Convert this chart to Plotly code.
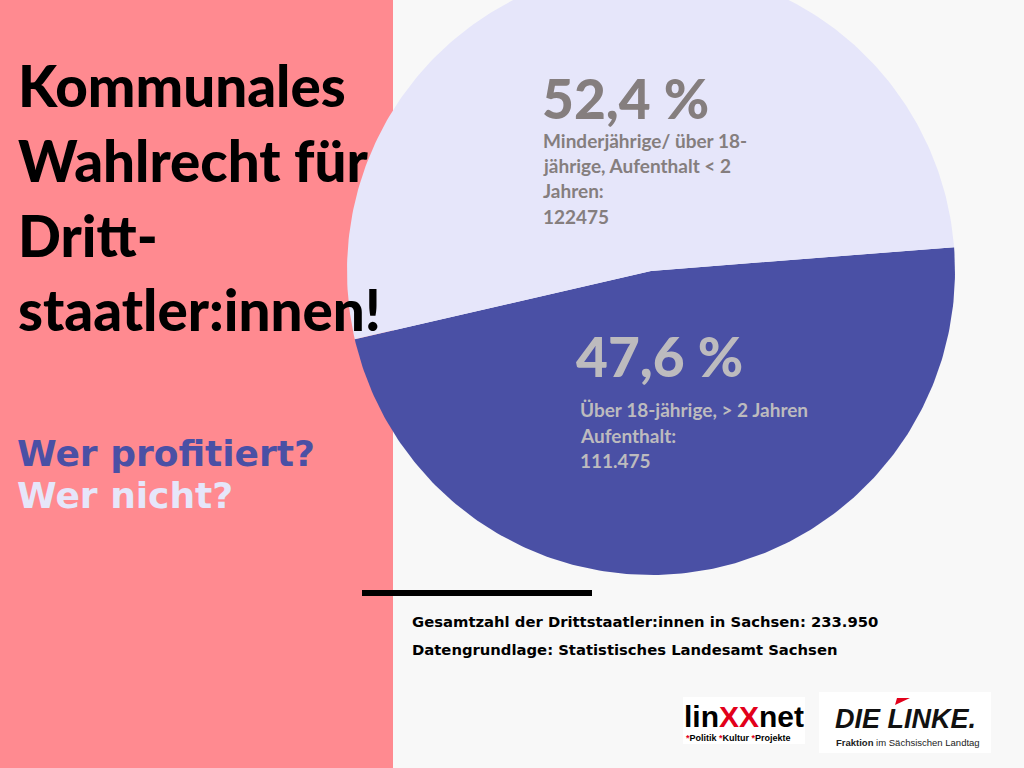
import numpy as np
import plotly.graph_objects as go

W, H = 1024, 768

# ---------------- data ----------------
categories = ["Minderjährige/ über 18-jährige, Aufenthalt < 2 Jahren",
              "Über 18-jährige, > 2 Jahren Aufenthalt"]
counts = [122475, 111475]
pct_labels = ["52,4 %", "47,6 %"]
desc_lines = [["Minderjährige/ über 18-", "jährige, Aufenthalt < 2", "Jahren:", "122475"],
              ["Über 18-jährige, > 2 Jahren", "Aufenthalt:", "111.475"]]
total_text = "Gesamtzahl der Drittstaatler:innen in Sachsen: 233.950"
source_text = "Datengrundlage: Statistisches Landesamt Sachsen"
title_lines = ["Kommunales", "Wahlrecht für", "Dritt-", "staatler:innen!"]
subtitle_lines = ["Wer profitiert?", "Wer nicht?"]

slice_colors = ["#E6E6FA", "#4A50A5"]
label_colors = ["#857E7E", "#BDBBBE"]
PINK = "#FF8A90"
BG = "#F8F8F8"

# pie geometry (pixel units on the axes)
CX, CY, R = 651, 271, 304
START_DEG = 4.5          # boundary between the slices on the right side

fig = go.Figure()

# slices drawn clockwise from START_DEG: first index 1 (blue), then index 0
total = sum(counts)
angle = START_DEG
for i in [1, 0]:
    span = counts[i] / total * 360.0
    th = np.radians(np.linspace(angle, angle - span, 200))
    xs = np.concatenate([[CX], CX + R * np.cos(th), [CX]])
    ys = np.concatenate([[CY], CY - R * np.sin(th), [CY]])
    fig.add_trace(go.Scatter(x=xs, y=ys, mode="lines", fill="toself",
                             fillcolor=slice_colors[i], line=dict(width=0, color=slice_colors[i]),
                             name=categories[i], hoverinfo="name", showlegend=False))
    angle -= span

shapes = [
    dict(type="rect", xref="x", yref="y", x0=0, x1=393, y0=0, y1=H,
         fillcolor=PINK, line=dict(width=0), layer="below"),
    dict(type="line", xref="x", yref="y", x0=362, x1=592, y0=593, y1=593,
         line=dict(color="black", width=6)),
    dict(type="rect", xref="x", yref="y", x0=683, x1=805, y0=697, y1=744,
         fillcolor="white", line=dict(width=0)),
    dict(type="rect", xref="x", yref="y", x0=819, x1=991, y0=692, y1=753,
         fillcolor="white", line=dict(width=0)),
    dict(type="path", xref="x", yref="y", path="M 895 705 L 897 698 L 910 698 Z",
         fillcolor="#E2001A", line=dict(width=0)),
]

annotations = []


def txt(x, base, text, size, color, family, weight="bold", style="normal"):
    annotations.append(dict(
        x=x, y=base - 0.37 * size, xref="x", yref="y", text=text, showarrow=False,
        xanchor="left", yanchor="middle", align="left",
        font=dict(size=size, color=color, family=family, weight=weight, style=style)))


TITLE_FONT = "Lato, 'Open Sans', sans-serif"
for line, base in zip(title_lines, [106, 181, 256, 330]):
    txt(16, base, line, 56.5, "black", TITLE_FONT, weight=900)

txt(15, 467, subtitle_lines[0], 36, "#4A50A5", "'DejaVu Sans', sans-serif")
txt(15, 509, subtitle_lines[1], 36, "#E6E6FA", "'DejaVu Sans', sans-serif")

# slice labels
txt(540, 118, pct_labels[0], 55, label_colors[0], TITLE_FONT, weight=900)
for line, base in zip(desc_lines[0], [148, 173, 198, 224]):
    txt(541, base, line, 19, label_colors[0], TITLE_FONT)

txt(574, 376, pct_labels[1], 55, label_colors[1], TITLE_FONT, weight=900)
for line, base in zip(desc_lines[1], [417, 443, 468]):
    txt(578, base, line, 19, label_colors[1], TITLE_FONT)

# footnotes
txt(410, 627, total_text, 14.8, "black", "'DejaVu Sans', sans-serif")
txt(410, 655, source_text, 14.8, "black", "'DejaVu Sans', sans-serif")

# logos
txt(682, 728, "lin<span style='color:#E2001A'>XX</span>net", 30, "black",
    "'Liberation Sans Narrow', 'Liberation Sans', sans-serif")
txt(684, 741, "<span style='color:#E2001A'>*</span>Politik <span style='color:#E2001A'>*</span>Kultur "
    "<span style='color:#E2001A'>*</span>Projekte", 9, "black",
    "'Liberation Sans Narrow', 'Liberation Sans', sans-serif")
txt(833, 729, "DIE LINKE.", 27, "#111111", "'Liberation Sans', sans-serif", weight=900, style="italic")
txt(834, 746, "<b>Fraktion</b> im Sächsischen Landtag", 9.5, "#222222",
    "'Liberation Sans', sans-serif", weight="normal")

fig.update_layout(
    width=W, height=H, margin=dict(l=0, r=0, t=0, b=0),
    paper_bgcolor=BG, plot_bgcolor=BG,
    xaxis=dict(range=[0, W], visible=False, fixedrange=True),
    yaxis=dict(range=[H, 0], visible=False, fixedrange=True),
    shapes=shapes, annotations=annotations, showlegend=False,
)

fig.write_html("out.html")
